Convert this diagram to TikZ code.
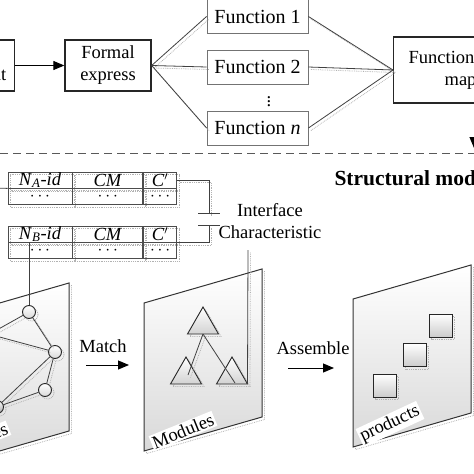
\documentclass[tikz,border=0pt]{standalone}
\usepackage{fontspec}
\setmainfont{Liberation Serif}
\usetikzlibrary{positioning}
\usetikzlibrary{arrows.meta}

\tikzset{
  echo/.style={preaction={draw=gray!60, densely dotted, line width=0.8pt,
      transform canvas={shift={(2.5pt,-2.5pt)}}}},
  wire/.style={draw=black!75, line width=0.8pt},
  arr/.style={draw=black, line width=1pt, -{Triangle[length=11pt,width=9pt]}},
  box/.style={draw=black!85, line width=1.3pt, align=center, inner sep=0pt},
  funbox/.style={draw=black!55, line width=0.9pt, minimum width=101pt, minimum height=34pt, inner sep=0pt,
      font=\fontsize{20}{22}\selectfont},
  cell/.style={draw=black!70, line width=0.8pt, minimum height=16pt, inner sep=0pt, echo},
  panel/.style={draw=black!80, line width=1pt, top color=white, bottom color=gray!30, echo},
  tri/.style={draw=black!85, line width=0.9pt, top color=white, bottom color=gray!35, echo},
  vtx/.style={circle, draw=black!85, line width=0.9pt, minimum size=13pt, inner sep=0pt,
      top color=white, bottom color=gray!30, echo},
  blk/.style={draw=black!85, line width=0.9pt, minimum size=23pt, inner sep=0pt,
      top color=white, bottom color=gray!40, echo},
  tag/.style={fill=white, inner sep=1.5pt},
}

\begin{document}
\begin{tikzpicture}[x=1pt, y=-1pt, font=\fontsize{18.5}{22}\selectfont]
  \useasboundingbox (0,0) rectangle (474,474);
  \clip (0,0) rectangle (474,474);

  % function part
  \node[box, anchor=east, minimum height=51pt, inner xsep=8pt] (req) at (15,65.5) {Customer\\requirement};
  \node[box, minimum width=86pt, minimum height=51pt] (formal) at (108,65.5) {Formal\\express};
  \node[funbox] (f1) at (257.5,16.5) {Function 1};
  \node[funbox] (f2) at (257.5,67) {Function 2};
  \node (dots) at (269,99) {$\vdots$};
  \node[funbox] (fn) at (257.5,128) {Function \textit{n}};
  \node[box, anchor=west, minimum height=66pt, inner xsep=15pt] (map) at (393,70) {Function-structure\\mapping};
  \draw[arr] (req) -- (formal);
  \foreach \f in {f1,f2,fn}
  {
    \draw[wire, echo] (formal.east) -- (\f.west);
    \draw[wire, echo] (\f.east) -- (map.west);
  }
  \coordinate (mapout) at (474,103);
  \coordinate (mapin) at (474,148);
  \draw[arr] (mapout) -- (mapin);

  % separator
  \draw[gray!70!black, line width=1pt, dash pattern=on 8pt off 5pt] (0,153) -- (474,153);
  \node[font=\fontsize{21.5}{24}\selectfont\bfseries, anchor=west] (smod) at (331,180) {Structural modeling};

  % interface tables
  \foreach \t/\y in {A/180,B/234}
  {
    \node[cell, minimum width=64pt] (id\t) at (40,\y) {\textit{N}\textsubscript{\textit{\t}}\textit{-id}};
    \node[cell, minimum width=70pt, right=0pt of id\t] (cm\t) {\textit{CM}};
    \node[cell, minimum width=33pt, right=0pt of cm\t] (ci\t) {\textit{C}$'$};
    \node[cell, minimum width=64pt, below=0pt of id\t] (ida\t) {$\cdots$};
    \node[cell, minimum width=70pt, below=0pt of cm\t] (cma\t) {$\cdots$};
    \node[cell, minimum width=33pt, below=0pt of ci\t] (cia\t) {$\cdots$};
  }
  \coordinate (tabin) at (-5,188);
  \draw[wire] (tabin) -- (idA.south west);

  % interface characteristic
  \coordinate (capA) at (209,213);
  \coordinate (capB) at (209,225);
  \draw[wire, echo] (ciA.east) -| (capA);
  \draw[wire, echo] (ciB.south east) -| (capB);
  \draw[wire, line width=1pt] ([xshift=-11pt]capA) -- ([xshift=11pt]capA);
  \draw[wire, line width=1pt] ([xshift=-11pt]capB) -- ([xshift=11pt]capB);
  \node[align=center] (iface) at (270,221) {Interface\\Characteristic};

  % panels
  \foreach \x/\y in {-49/317,144/303,353/299}
    \draw[panel] (\x,\y) -- (\x+118,\y-34) -- (\x+118,\y+114) -- (\x,\y+148) -- cycle;
  \node[tag, rotate=22] (feat) at (-22,440) {Features};
  \node[tag, rotate=22] (mods) at (183,431) {Modules};
  \node[tag, rotate=25] (prods) at (390,424) {products};

  % graph of features
  \node[vtx] (v1) at (29,312) {};
  \node[vtx] (v2) at (55,352) {};
  \node[vtx] (v3) at (45,390) {};
  \node[vtx, bottom color=gray!70] (v4) at (-3,407) {};
  \coordinate (w1) at (-30,345);
  \coordinate (w2) at (-30,329);
  \draw[wire, echo] (w1) -- (v1);
  \draw[wire, echo] (w2) -- (v2);
  \draw[wire, echo] (v1) -- (v2);
  \draw[wire, echo] (v2) -- (v3);
  \draw[wire, echo] (v4) -- (v2);
  \draw[wire, echo] (v4) -- (v3);
  \draw[wire] (v1 |- idB.south) -- (v1);

  % module tree
  \foreach \n/\x/\y in {T/203/307,L/186/357,R/232/357}
  {
    \draw[tri] (\x,\y) -- (\x+15.5,\y+27) -- (\x-15.5,\y+27) -- cycle;
    \coordinate (t\n) at (\x,\y+27);
    \coordinate (e\n) at (\x+15.5,\y+27);
  }
  \coordinate (tL2) at (188,375);
  \coordinate (tR2) at (235,383);
  \draw[wire, echo] (tT) -- (tL2);
  \draw[wire] (tT) -- (tR2);
  \coordinate (ifdrop) at (248,250);
  \draw[wire, echo] (ifdrop) -- (eR);

  % assembled products
  \node[blk] (p1) at (440.5,325.5) {};
  \node[blk] (p2) at (414.5,355) {};
  \node[blk] (p3) at (384.5,385.5) {};

  % operations
  \node (match) at (103,346) {Match};
  \coordinate (m1) at (86,365);
  \coordinate (m2) at (129,365);
  \draw[arr] (m1) -- (m2);
  \node (asm) at (313,348) {Assemble};
  \coordinate (a1) at (288,368);
  \coordinate (a2) at (334,368);
  \draw[arr] (a1) -- (a2);
\end{tikzpicture}
\end{document}
